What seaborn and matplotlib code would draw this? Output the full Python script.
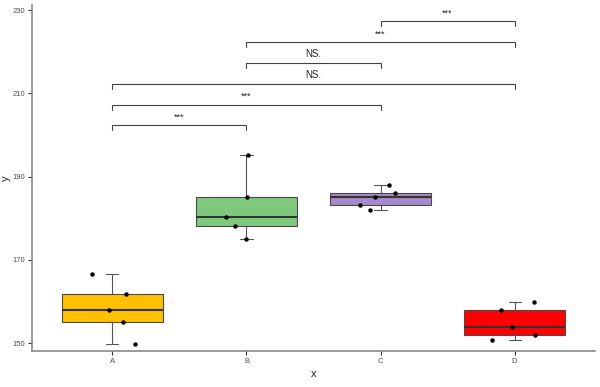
import numpy as np
import pandas as pd
import matplotlib
matplotlib.use("Agg")
import matplotlib.pyplot as plt
import seaborn as sns

# ---- data ----
groups = ["A", "B", "C", "D"]
vals_A = [166.7, 161.8, 157.9, 155.0, 149.9]
vals_B = [195.2, 185.0, 180.2, 178.2, 175.0]
vals_C = [188.0, 186.1, 185.1, 183.1, 182.1]
vals_D = [159.8, 158.0, 154.0, 152.0, 150.9]
colors = ["#FFC000", "#7FC97F", "#A58BCB", "#FF0000"]

comparisons = [("A", "B"), ("A", "C"), ("A", "D"), ("B", "C"), ("B", "D"), ("C", "D")]
comp_labels = ["***", "***", "NS.", "NS.", "***", "***"]
comp_y = [202.3, 207.3, 212.3, 217.3, 222.3, 227.3]
y_ticks = [150, 170, 190, 210, 230]

df = pd.DataFrame({
    "x": np.repeat(groups, 5),
    "y": vals_A + vals_B + vals_C + vals_D,
})

sns.set_theme(style="white")
plt.rcParams["font.family"] = ["Liberation Sans", "DejaVu Sans"]

fig = plt.figure(figsize=(6, 3.87), dpi=100)
ax = fig.add_axes([0.0533, 0.093, 0.9384, 0.894])

sns.boxplot(data=df, x="x", y="y", hue="x", palette=colors, order=groups,
            hue_order=groups, width=0.75, legend=False, whis=10, fliersize=0,
            saturation=1, linewidth=0.8, linecolor="#4a4a4a", capwidths=0.09,
            medianprops=dict(color="#333333", linewidth=1.5),
            whiskerprops=dict(color="#555555", linewidth=0.8),
            capprops=dict(color="#555555", linewidth=0.8),
            ax=ax)

np.random.seed(7)
sns.stripplot(data=df, x="x", y="y", order=groups, color="black", size=3.2,
              jitter=0.18, ax=ax, zorder=5)

# significance brackets
pos = {g: i for i, g in enumerate(groups)}
tick = 1.2
for (g1, g2), lab, yy in zip(comparisons, comp_labels, comp_y):
    x1, x2 = pos[g1], pos[g2]
    ax.plot([x1, x1, x2, x2], [yy - tick, yy, yy, yy - tick], color="#444444",
            lw=0.8, solid_joinstyle="miter")
    ax.text((x1 + x2) / 2, yy + 0.9, lab, ha="center", va="bottom",
            fontsize=7 if lab != "***" else 6.5, color="#222222")

ax.set_xlim(-0.6, 3.6)
ax.set_ylim(148.15, 231.2)
ax.set_yticks(y_ticks)
ax.set_xticks(range(len(groups)))
ax.set_xticklabels(groups)
ax.tick_params(axis="both", labelsize=5.5, labelcolor="#4D4D4D", length=3,
               width=0.8, color="#333333", left=True, bottom=True, pad=2)
for s in ["top", "right"]:
    ax.spines[s].set_visible(False)
for s in ["left", "bottom"]:
    ax.spines[s].set_color("#7F7F7F")
    ax.spines[s].set_linewidth(1.1)
ax.set_xlabel("x", fontsize=8, color="#222222", labelpad=3)
ax.set_ylabel("y", fontsize=8, color="#222222")
ax.yaxis.set_label_coords(-0.037, 0.5)

fig.savefig("out.png", dpi=100)
